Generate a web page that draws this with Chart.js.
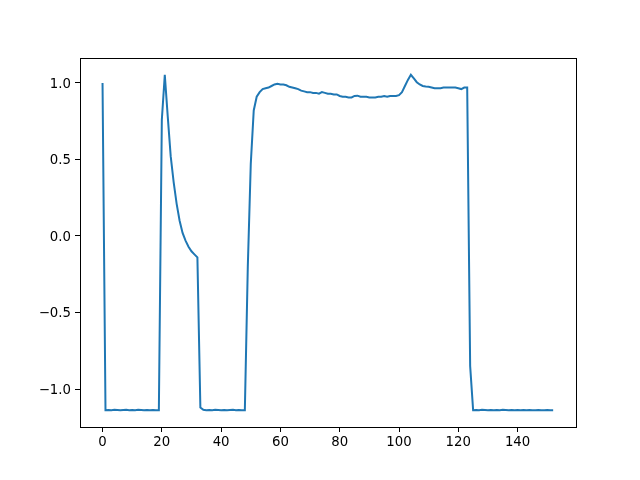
<!DOCTYPE html>
<html>
<head>
<meta charset="utf-8">
<script src="https://cdn.jsdelivr.net/npm/chart.js@4/dist/chart.umd.min.js"></script>
<style>
  html, body { margin: 0; padding: 0; background: #fff; }
  #wrap { width: 640px; height: 480px; }
</style>
</head>
<body>
<div id="wrap"><canvas id="chart" width="640" height="480"></canvas></div>
<script>
// series values, one per step 0..152
const signal = [
  1.0,
  -1.138, -1.137, -1.138, -1.136, -1.137, -1.138, -1.137, -1.136, -1.138, -1.137,
  -1.138, -1.136, -1.137, -1.138, -1.137, -1.138, -1.137, -1.138, -1.138,
  0.76, 1.053, 0.78, 0.52, 0.35, 0.21, 0.10, 0.02, -0.03, -0.07, -0.10, -0.12, -0.14,
  -1.12,
  -1.136, -1.138, -1.137, -1.138, -1.136, -1.137, -1.138, -1.137, -1.138, -1.137,
  -1.136, -1.138, -1.137, -1.138, -1.138,
  -0.2, 0.47, 0.82,
  0.91, 0.94, 0.96, 0.965, 0.97, 0.98, 0.99, 0.995, 0.99,
  0.99, 0.985, 0.975, 0.97, 0.965, 0.96, 0.95, 0.945, 0.94, 0.94,
  0.935, 0.935, 0.93, 0.94, 0.935, 0.93, 0.93, 0.925, 0.925, 0.915,
  0.91, 0.91, 0.905, 0.905, 0.915, 0.917, 0.91, 0.91, 0.91, 0.905,
  0.905, 0.905, 0.91, 0.91, 0.915, 0.91, 0.915, 0.915, 0.915, 0.92,
  0.94, 0.98, 1.02, 1.053, 1.03, 1.005, 0.99, 0.98, 0.977, 0.975,
  0.97, 0.965, 0.965, 0.965, 0.97, 0.97, 0.97, 0.97, 0.97, 0.965,
  0.96, 0.97, 0.97,
  -0.85,
  -1.138, -1.137, -1.138, -1.136, -1.137, -1.138, -1.137, -1.138, -1.137, -1.138,
  -1.136, -1.137, -1.138, -1.137, -1.138, -1.137, -1.138, -1.137, -1.138, -1.137,
  -1.138, -1.138, -1.137, -1.138, -1.138, -1.137, -1.138, -1.138
];
const xTicks = [0, 20, 40, 60, 80, 100, 120, 140];
const yTicks = [-1.0, -0.5, 0.0, 0.5, 1.0];

const points = signal.map((v, i) => ({ x: i, y: v }));

// matplotlib style full box around the axes
const frame = {
  id: 'frame',
  afterDraw(chart) {
    const a = chart.chartArea, c = chart.ctx;
    c.save();
    c.strokeStyle = '#000';
    c.lineWidth = 1;
    c.strokeRect(Math.round(a.left) + 0.5, Math.round(a.top) + 0.5,
      Math.round(a.right - a.left), Math.round(a.bottom - a.top));
    c.restore();
  }
};

const tickFont = { family: 'DejaVu Sans', size: 13.3 };

new Chart(document.getElementById('chart').getContext('2d'), {
  type: 'line',
  data: {
    datasets: [{
      data: points,
      borderColor: '#1f77b4',
      borderWidth: 2,
      pointRadius: 0,
      tension: 0,
      fill: false
    }]
  },
  options: {
    responsive: false,
    animation: false,
    devicePixelRatio: 1,
    layout: { padding: { top: 58, right: 64, left: 0, bottom: 0 } },
    plugins: { legend: { display: false }, tooltip: { enabled: false } },
    scales: {
      x: {
        type: 'linear',
        min: -7.6,
        max: 159.7,
        afterBuildTicks: s => { s.ticks = xTicks.map(v => ({ value: v })); },
        afterFit: s => { s.height = 53; },
        grid: { drawOnChartArea: false, drawTicks: true, tickLength: 5, color: '#000' },
        border: { display: true, color: '#000' },
        ticks: { color: '#000', font: tickFont, padding: 3, maxRotation: 0,
          callback: v => String(v) }
      },
      y: {
        type: 'linear',
        min: -1.248,
        max: 1.163,
        afterBuildTicks: s => { s.ticks = yTicks.map(v => ({ value: v })); },
        afterFit: s => { s.width = 80; },
        grid: { drawOnChartArea: false, drawTicks: true, tickLength: 5, color: '#000' },
        border: { display: true, color: '#000' },
        ticks: { color: '#000', font: tickFont, padding: 4, labelOffset: 1.5,
          callback: v => (v < 0 ? '\u2212' : '') + Math.abs(v).toFixed(1) }
      }
    }
  },
  plugins: [frame]
});
</script>
</body>
</html>
